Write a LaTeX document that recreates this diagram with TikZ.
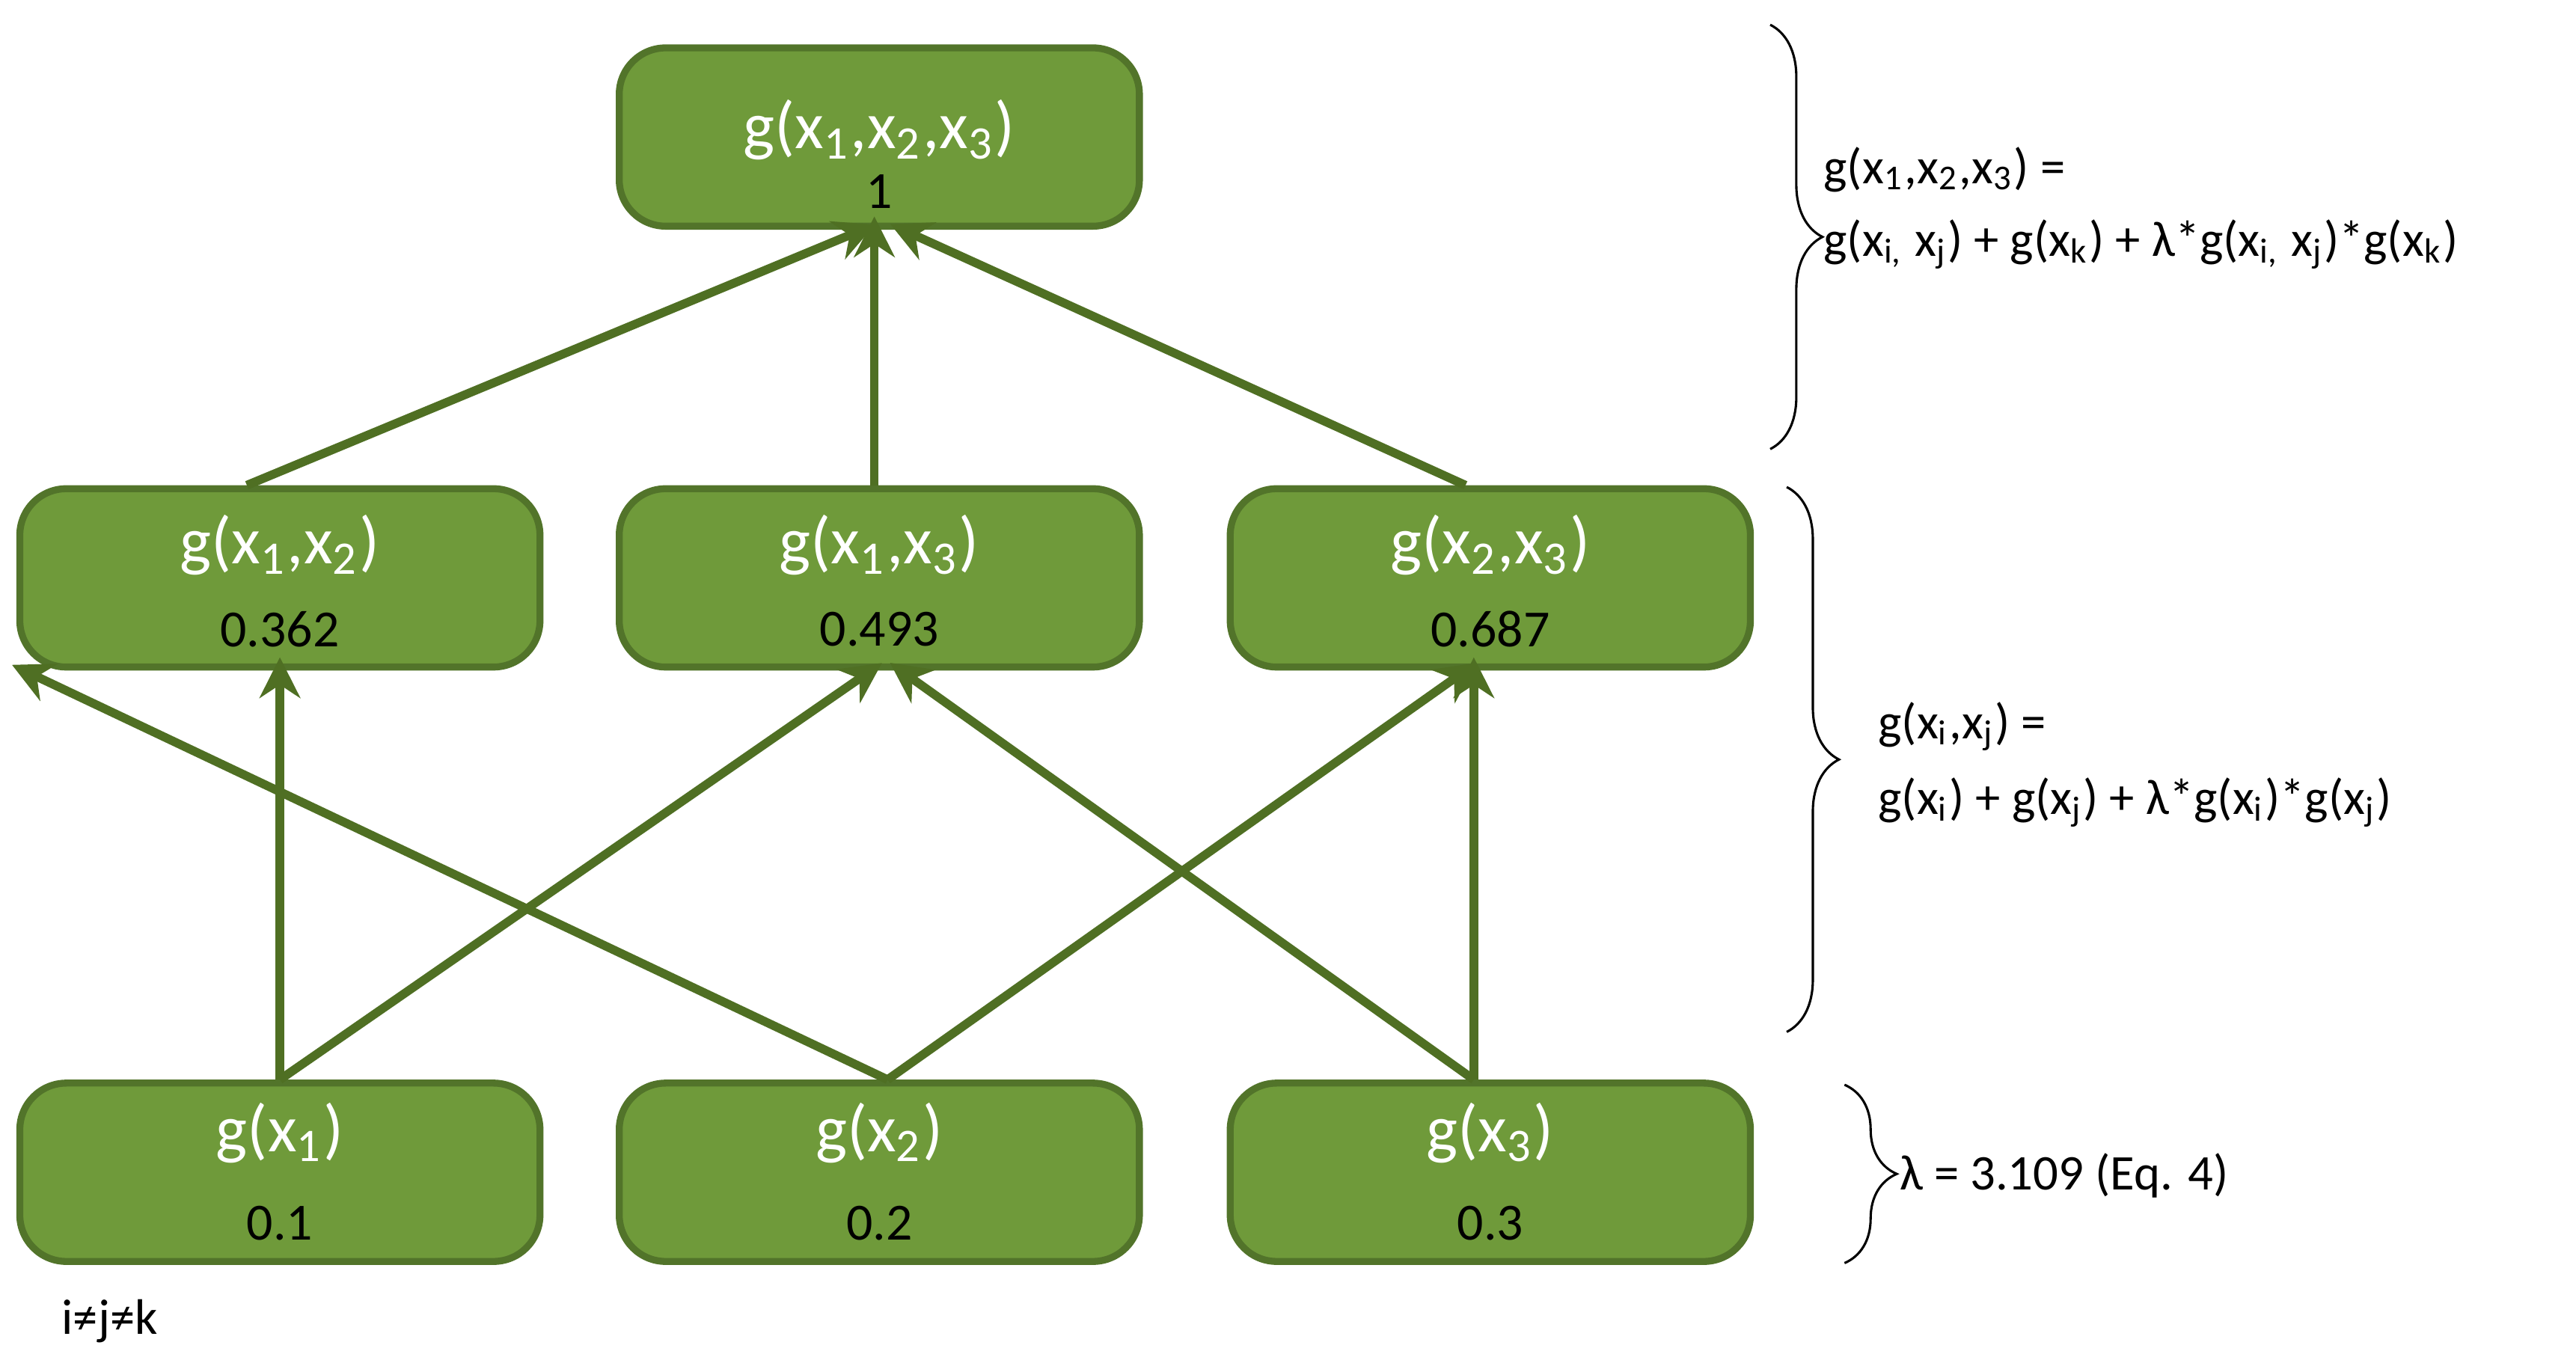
\documentclass[tikz,border=0pt]{standalone}
\usepackage{fontspec}
\setmainfont{Carlito}
\usetikzlibrary{arrows.meta,decorations.pathreplacing,positioning}
\definecolor{boxfill}{HTML}{6F9A3A}
\definecolor{boxline}{HTML}{52742A}
\definecolor{arrline}{HTML}{4F6F23}
\tikzset{box/.style = {rectangle, rounded corners=8pt, fill=boxfill, draw=boxline, line width=1.2pt, minimum width=3.15cm, minimum height=1.08cm}}
\tikzset{ttl/.style = {text=white, font=\fontsize{11.5}{13}\selectfont}}
\tikzset{val/.style = {text=black, font=\fontsize{9}{11}\selectfont}}
\tikzset{arr/.style = {draw=arrline, line width=1.5pt, -{Stealth[length=7pt,width=7pt]}, shorten >=-0.08cm}}
\tikzset{brc/.style = {draw=black, thin, decorate, decoration={brace, amplitude=9pt}}}
\tikzset{eq/.style = {anchor=west, font=\fontsize{8.6}{10}\selectfont}}
\newcommand{\sub}[1]{\textsubscript{#1}}
\begin{document}
\begin{tikzpicture}
\useasboundingbox (0,0) rectangle (15.6,-8.29);
% boxes
\node(X123)[box] at (5.325,-0.83) {};
\node(X12)[box] at (1.695,-3.50) {};
\node(X13)[box] at (5.325,-3.50) {};
\node(X23)[box] at (9.025,-3.50) {};
\node(X1)[box] at (1.695,-7.10) {};
\node(X2)[box] at (5.325,-7.10) {};
\node(X3)[box] at (9.025,-7.10) {};
% box texts
\node[ttl] at ([yshift=-0.21cm]X123.north) [below] {g(x\sub{1},x\sub{2},x\sub{3})};
\node[val] at ([yshift=-0.33cm]X123.center) {1};
\node[ttl] at ([yshift=0.2cm]X12.center) {g(x\sub{1},x\sub{2})};
\node[val] at ([yshift=-0.31cm]X12.center) {0.362};
\node[ttl] at ([yshift=0.2cm]X13.center) {g(x\sub{1},x\sub{3})};
\node[val] at ([yshift=-0.31cm]X13.center) {0.493};
\node[ttl] at ([yshift=0.2cm]X23.center) {g(x\sub{2},x\sub{3})};
\node[val] at ([yshift=-0.31cm]X23.center) {0.687};
\node[ttl] at ([yshift=0.24cm]X1.center) {g(x\sub{1})};
\node[val] at ([yshift=-0.31cm]X1.center) {0.1};
\node[ttl] at ([yshift=0.24cm]X2.center) {g(x\sub{2})};
\node[val] at ([yshift=-0.31cm]X2.center) {0.2};
\node[ttl] at ([yshift=0.24cm]X3.center) {g(x\sub{3})};
\node[val] at ([yshift=-0.31cm]X3.center) {0.3};
% arrows
\draw[arr] (X1.north) -- (X12.south);
\draw[arr] (X1.north) -- ([xshift=-0.05cm]X13.south);
\draw[arr] ([xshift=0.05cm]X2.north) -- ([xshift=-1.55cm]X12.south);
\draw[arr] ([xshift=0.05cm]X2.north) -- ([xshift=-0.15cm]X23.south);
\draw[arr] ([xshift=-0.1cm]X3.north) -- ([xshift=0.13cm]X13.south);
\draw[arr] ([xshift=-0.1cm]X3.north) -- ([xshift=-0.1cm]X23.south);
\draw[arr] ([xshift=-0.2cm]X12.north) -- ([xshift=-0.1cm]X123.south);
\draw[arr] ([xshift=-0.03cm]X13.north) -- ([xshift=-0.03cm]X123.south);
\draw[arr] ([xshift=-0.15cm]X23.north) -- ([xshift=0.14cm]X123.south);
% braces
\coordinate(B1a) at (10.72,-0.15);
\coordinate(B1b) at (10.72,-2.72);
\coordinate(B2a) at (10.82,-2.95);
\coordinate(B2b) at (10.82,-6.25);
\coordinate(B3a) at (11.17,-6.57);
\coordinate(B3b) at (11.17,-7.65);
\draw[brc] (B1a) -- (B1b);
\draw[brc] (B2a) -- (B2b);
\draw[brc] (B3a) -- (B3b);
% equations
\node(E1)[eq] at (10.92,-1.03) {g(x\sub{1},x\sub{2},x\sub{3}) =};
\node(E2)[eq] at (10.92,-1.48) {g(x\sub{i,} x\sub{j}) + g(x\sub{k}) + λ*g(x\sub{i,} x\sub{j})*g(x\sub{k})};
\node(E3)[eq] at (11.25,-4.40) {g(x\sub{i},x\sub{j}) =};
\node(E4)[eq] at (11.25,-4.86) {g(x\sub{i}) + g(x\sub{j}) + λ*g(x\sub{i})*g(x\sub{j})};
\node(E5)[eq] at (11.38,-7.12) {λ = 3.109 (Eq. 4)};
\node(N)[eq] at (0.25,-8.00) {i≠j≠k};
\end{tikzpicture}
\end{document}
